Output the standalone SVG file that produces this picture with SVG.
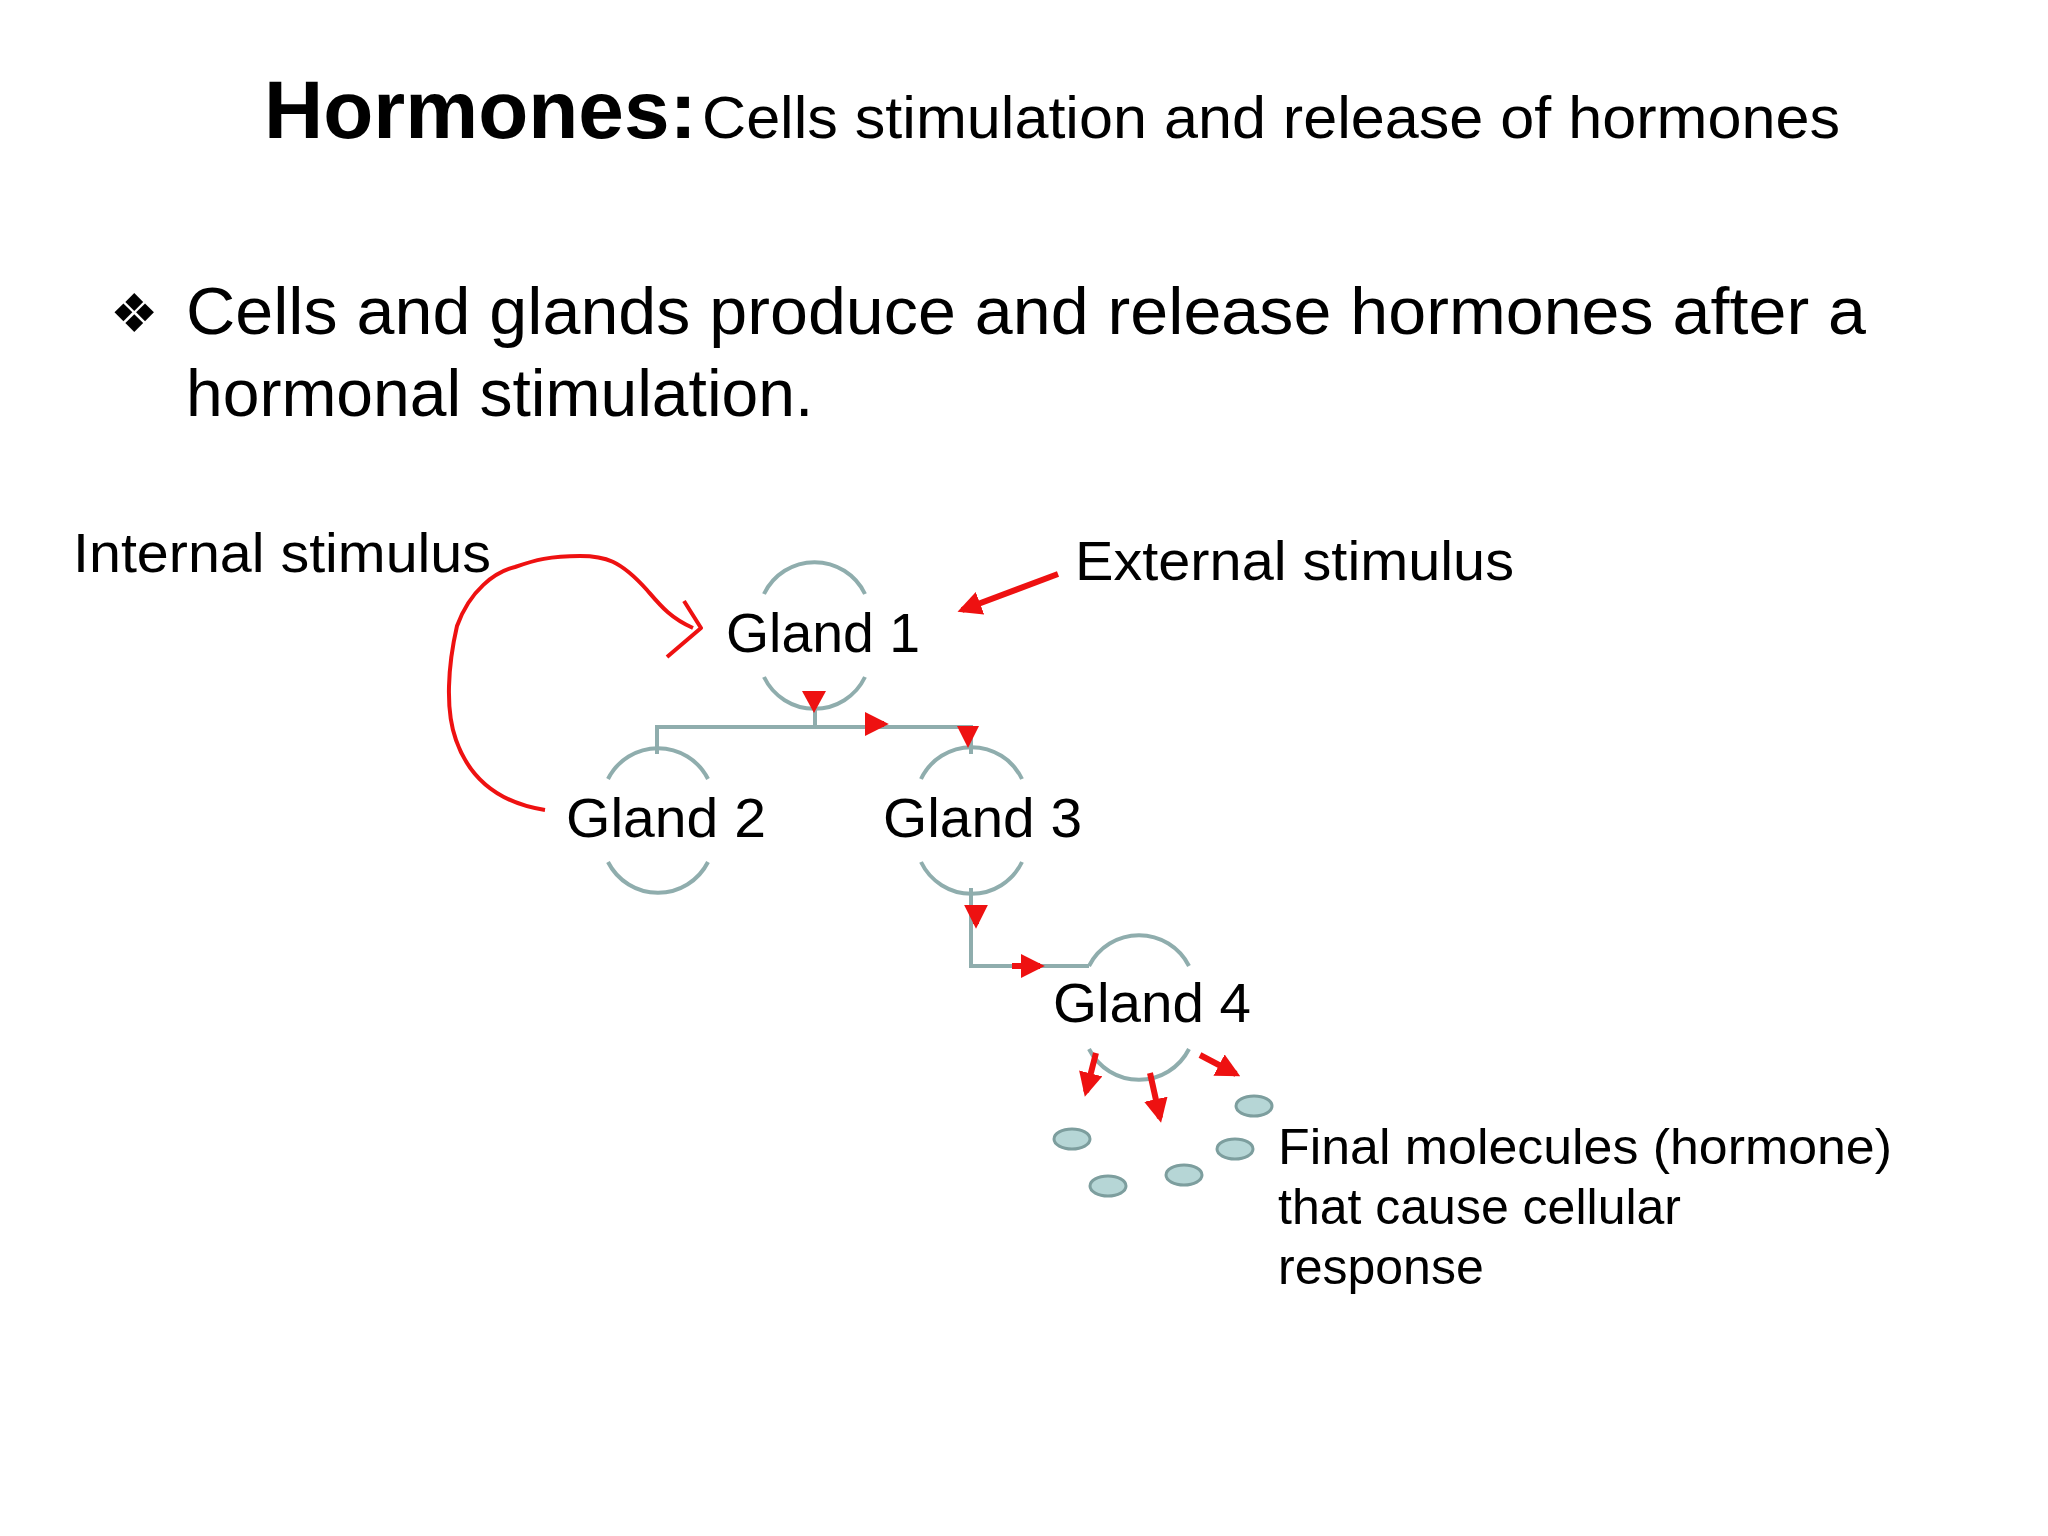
<svg xmlns="http://www.w3.org/2000/svg" width="2048" height="1536" viewBox="0 0 2048 1536">
<style>
text{font-family:"Liberation Sans",Arial,sans-serif;fill:#000}
.g{font-size:56px}
.arc{fill:none;stroke:#8fadad;stroke-width:4}
.con{fill:none;stroke:#8fadad;stroke-width:4}
.red{fill:none;stroke:#ee1111;stroke-width:6}
.mol{fill:#b6d6d6;stroke:#7d9e9e;stroke-width:3}
</style>
<defs>
<marker id="ah" viewBox="0 0 10 10" refX="8" refY="5" markerWidth="4" markerHeight="4" orient="auto"><path d="M0,0L10,5L0,10z" fill="#ee1111"/></marker>
</defs>
<rect width="2048" height="1536" fill="#fff"/>
<text x="264" y="138" font-size="82" font-weight="bold">Hormones:</text>
<text x="702" y="138" font-family="'Open Sans','Liberation Sans',sans-serif" font-size="60" textLength="1138" lengthAdjust="spacingAndGlyphs">Cells stimulation and release of hormones</text>
<text x="110" y="332" font-size="54" font-family="'DejaVu Sans',sans-serif">❖</text>
<text x="186" y="334" font-size="66" textLength="1680" lengthAdjust="spacingAndGlyphs">Cells and glands produce and release hormones after a</text>
<text x="186" y="416" font-size="66">hormonal stimulation.</text>
<text x="73" y="572" font-size="56" textLength="418" lengthAdjust="spacingAndGlyphs">Internal stimulus</text>
<text x="1075" y="580" font-size="56" textLength="439" lengthAdjust="spacingAndGlyphs">External stimulus</text>
<g id="gland1"><path class="arc" d="M764,594A56,56 0 0 1 865,594M764,677A56,56 0 0 0 865,677"/><text class="g" x="726" y="652" textLength="194" lengthAdjust="spacingAndGlyphs">Gland 1</text></g>
<g id="gland2"><path class="arc" d="M608,779A56,56 0 0 1 708,779M608,862A56,56 0 0 0 708,862"/><text class="g" x="566" y="837" textLength="200" lengthAdjust="spacingAndGlyphs">Gland 2</text></g>
<g id="gland3"><path class="arc" d="M921,779A56,56 0 0 1 1022,779M921,862A56,56 0 0 0 1022,862"/><text class="g" x="883" y="837" textLength="199" lengthAdjust="spacingAndGlyphs">Gland 3</text></g>
<g id="gland4"><path class="arc" d="M1089,966A56,56 0 0 1 1189,966M1089,1049A56,56 0 0 0 1189,1049"/><text class="g" x="1053" y="1022" textLength="198" lengthAdjust="spacingAndGlyphs">Gland 4</text></g>
<g id="molecules">
<ellipse class="mol" cx="1254" cy="1106" rx="18" ry="10"/>
<ellipse class="mol" cx="1072" cy="1139" rx="18" ry="10"/>
<ellipse class="mol" cx="1235" cy="1149" rx="18" ry="10"/>
<ellipse class="mol" cx="1184" cy="1175" rx="18" ry="10"/>
<ellipse class="mol" cx="1108" cy="1186" rx="18" ry="10"/>
<text x="1278" y="1164" font-size="50" textLength="614" lengthAdjust="spacingAndGlyphs">Final molecules (hormone)</text>
<text x="1278" y="1224" font-size="50">that cause cellular</text>
<text x="1278" y="1284" font-size="50">response</text>
</g>
<g id="connectors">
<path class="con" d="M815,701V727M657,754V727H971V754M971,888V966H1089"/>
<path d="M802,691H826L814,713z" fill="#ee1111"/>
<path d="M957,726H979L968,748z" fill="#ee1111"/>
<path class="red" d="M870,724H884" marker-end="url(#ah)"/>
<path class="red" d="M976,905V924" marker-end="url(#ah)"/>
<path class="red" d="M1012,966H1040" marker-end="url(#ah)"/>
<path class="red" d="M1096,1053L1086,1092" marker-end="url(#ah)"/>
<path class="red" d="M1150,1073L1160,1118" marker-end="url(#ah)"/>
<path class="red" d="M1200,1055L1236,1074" marker-end="url(#ah)"/>
<path class="red" d="M1058,574L962,610" marker-end="url(#ah)"/>
<path fill="none" stroke="#ee1111" stroke-width="4" stroke-linejoin="round" d="M545,810C500,803 470,780 456,740C445,710 448,665 457,626C470,590 495,572 515,567C535,560 550,556 580,556C605,556 620,560 647,590C660,605 670,618 693,628M684,601L701,628L667,657"/>
</g>
</svg>
